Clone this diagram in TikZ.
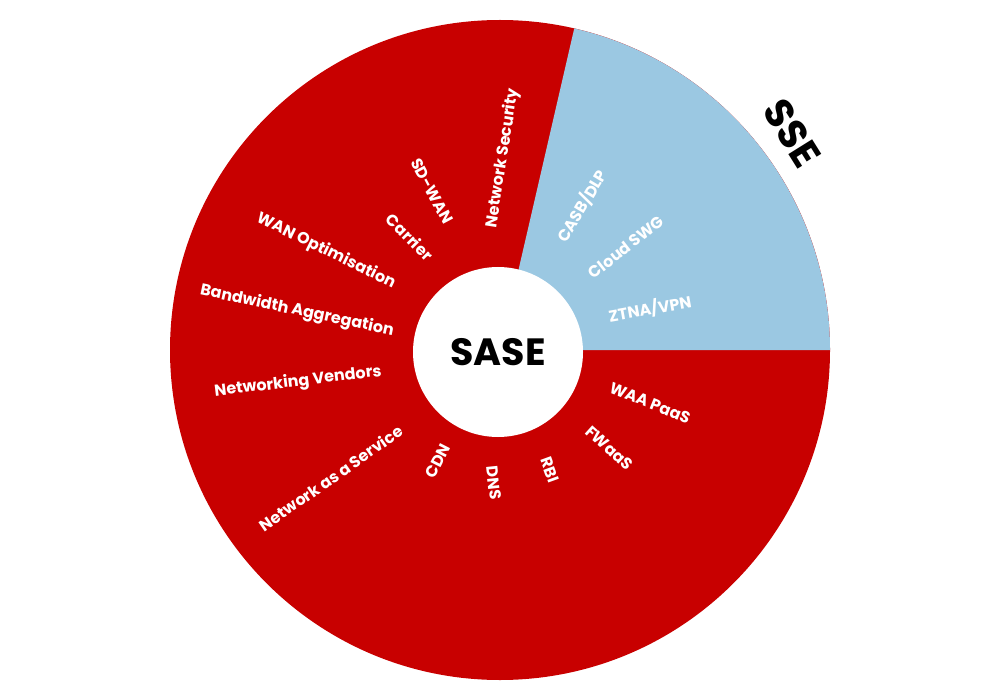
\documentclass[tikz,border=0pt]{standalone}
\usepackage{fontspec}
\setmainfont{Poppins}
\definecolor{sred}{HTML}{C80000}
\definecolor{sblue}{HTML}{9BC8E2}
\begin{document}
\begin{tikzpicture}[x=1pt,y=-1pt,
  lab/.style={text=white,font=\fontsize{16}{16}\selectfont\bfseries,inner sep=0pt}]
\useasboundingbox (0,0) rectangle (1000,700);
\fill[white] (0,0) rectangle (1000,700);
\coordinate (c) at (500,350);
\fill[sred] (c) circle (330);
\fill[sblue] (c) -- (830,350) arc[start angle=0,end angle=-77,radius=330] -- cycle;
\node[circle,fill=white,minimum size=170pt,inner sep=0pt] (hub) at (498,352) {};
\node[font=\fontsize{38}{38}\selectfont\bfseries] (sase) at (hub) {SASE};
\node[font=\fontsize{40}{40}\selectfont\bfseries,rotate=-58] (sse) at (792,133) {SSE};
\node[lab,rotate=81] (ns) at (503,158) {Network Security};
\node[lab,rotate=-62] (sd) at (432,191) {SD-WAN};
\node[lab,rotate=-45] (ca) at (410,237) {Carrier};
\node[lab,rotate=-26] (wo) at (326,251) {WAN Optimisation};
\node[lab,rotate=-12] (ba) at (297,311) {Bandwidth Aggregation};
\node[lab,rotate=7] (nv) at (298,382) {Networking Vendors};
\node[lab,rotate=35] (naas) at (331,478) {Network as a Service};
\node[lab,rotate=63] (cdn) at (438,461) {CDN};
\node[lab,rotate=-84] (dns) at (494,483) {DNS};
\node[lab,rotate=-70] (rbi) at (550,470) {RBI};
\node[lab,rotate=-42] (fw) at (609,448) {FWaaS};
\node[lab,rotate=-22] (waa) at (650,403) {WAA PaaS};
\node[lab,rotate=10] (zt) at (650,309) {ZTNA/VPN};
\node[lab,rotate=38] (swg) at (626,247) {Cloud SWG};
\node[lab,rotate=59] (casb) at (582,206) {CASB/DLP};
\end{tikzpicture}
\end{document}
